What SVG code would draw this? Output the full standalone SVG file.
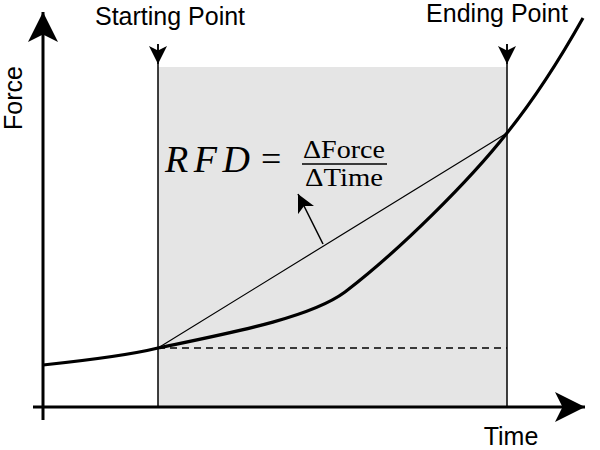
<svg xmlns="http://www.w3.org/2000/svg" width="600" height="450" viewBox="0 0 600 450">
<style>
.lbl{font-family:"Liberation Sans",Arial,sans-serif;font-size:25px;fill:#000}
.m{font-family:"Liberation Serif","Times New Roman",serif;fill:#000}
</style>
<defs>
<marker id="ax" viewBox="0 0 10 10" refX="10" refY="5" markerWidth="30" markerHeight="30" markerUnits="userSpaceOnUse" orient="auto"><path d="M0,0 L10,5 L0,10 L2.5,5 Z" fill="#000"/></marker>
<marker id="sm" viewBox="0 0 10 10" refX="10" refY="5" markerWidth="18" markerHeight="18" markerUnits="userSpaceOnUse" orient="auto"><path d="M0,0 L10,5 L0,10 L2.5,5 Z" fill="#000"/></marker>
</defs>
<rect x="158" y="67" width="349" height="340" fill="#e5e5e5"/>
<g id="connectors" fill="none" stroke="#000">
<line x1="43" y1="420" x2="43" y2="12" stroke-width="3" marker-end="url(#ax)"/>
<line x1="33" y1="407" x2="585" y2="407" stroke-width="3" marker-end="url(#ax)"/>
<line x1="158" y1="407" x2="158" y2="44" stroke-width="1.5"/>
<line x1="158" y1="44" x2="158" y2="64" stroke-width="1.5" marker-end="url(#sm)"/>
<line x1="507" y1="407" x2="507" y2="44" stroke-width="1.5"/>
<line x1="507" y1="44" x2="507" y2="64" stroke-width="1.5" marker-end="url(#sm)"/>
<line x1="158" y1="348" x2="507" y2="348" stroke-width="1.5" stroke-dasharray="7,5"/>
<line x1="158" y1="348" x2="507" y2="133" stroke-width="1.2"/>
<path d="M43,365 C90,360 130,355 158,348 C230,333 310,318 345,292 C400,250 470,180 507,133 C540,92 565,50 583,18" stroke-width="3.2"/>
<line x1="323" y1="244" x2="298" y2="194" stroke-width="1.5" marker-end="url(#sm)"/>
</g>
<g id="labels">
<text class="lbl" x="170" y="25" text-anchor="middle">Starting Point</text>
<text class="lbl" x="497" y="22" text-anchor="middle">Ending Point</text>
<text class="lbl" x="511" y="445" text-anchor="middle">Time</text>
<text class="lbl" transform="translate(22,98) rotate(-90)" text-anchor="middle">Force</text>
</g>
<g id="formula">
<text class="m" x="165" y="172" font-size="38" font-style="italic" textLength="85" lengthAdjust="spacing">RFD</text>
<text class="m" x="261" y="171" font-size="36">=</text>
<text class="m" x="303" y="158" font-size="25" textLength="82" lengthAdjust="spacingAndGlyphs">ΔForce</text>
<line x1="302" y1="164" x2="387" y2="164" stroke="#000" stroke-width="1.3"/>
<text class="m" x="305" y="186" font-size="25" textLength="78" lengthAdjust="spacingAndGlyphs">ΔTime</text>
</g>
</svg>
